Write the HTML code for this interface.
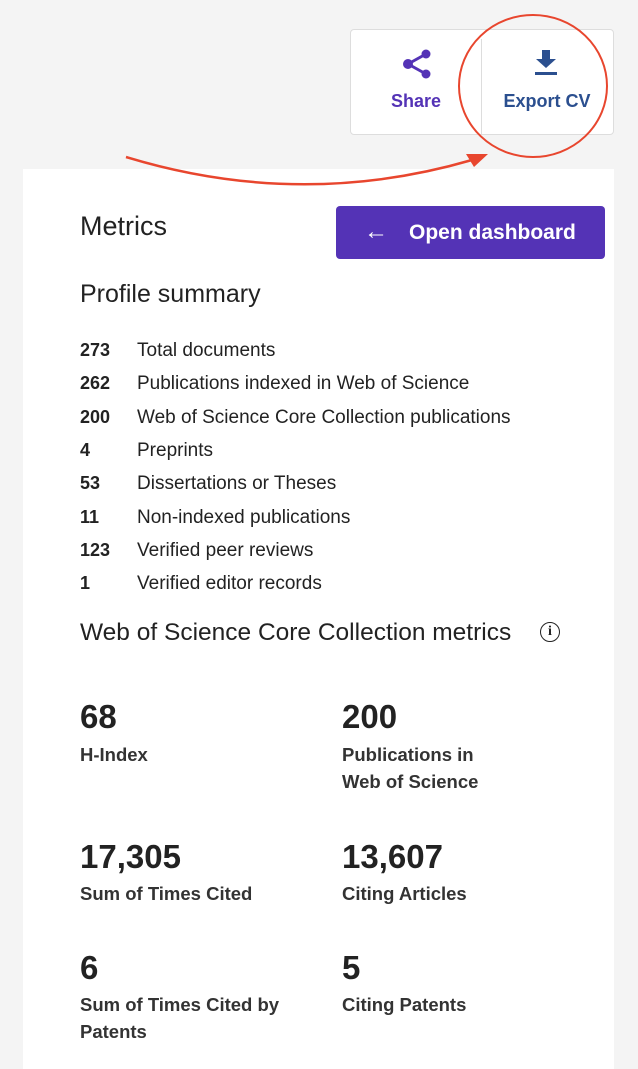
<!DOCTYPE html>
<html><head><meta charset="utf-8"><style>
body{margin:0;width:638px;height:1066px;background:#f4f4f4;position:relative;overflow:hidden;font-family:"Liberation Sans",sans-serif;color:#222}
.a{position:absolute;white-space:nowrap}
.panel{position:absolute;left:23px;top:169px;width:591px;height:900px;background:#fff}
.row{position:absolute;left:80px;font-size:19px;line-height:22px;display:flex;align-items:baseline}
.row b{width:57px;font-weight:bold;font-size:18px}
.big{font-size:33px;font-weight:bold;color:#222}
.lab{font-size:18.5px;font-weight:bold;color:#333;line-height:27px}
</style></head><body>
<div class="panel"></div>
<div class="a" style="left:350px;top:29px;width:262px;height:104px;background:#fff;border:1px solid #ddd;border-radius:4px"></div>
<div class="a" style="left:481px;top:39px;width:1px;height:95px;background:#ddd"></div>
<div class="a" style="left:351px;top:30px;width:130px;height:104px">
<svg style="position:absolute;left:51px;top:18px" width="30" height="32" viewBox="0 0 30 32"><line x1="24" y1="6" x2="6" y2="16" stroke="#5433b6" stroke-width="3"/><line x1="24" y1="26" x2="6" y2="16" stroke="#5433b6" stroke-width="3"/><circle cx="24" cy="6" r="4.5" fill="#5433b6"/><circle cx="24" cy="26" r="4.5" fill="#5433b6"/><circle cx="6" cy="16" r="5" fill="#5433b6"/></svg>
<div class="a" style="left:0;width:130px;top:61px;text-align:center;font-size:18px;font-weight:bold;color:#5433b6">Share</div></div>
<div class="a" style="left:482px;top:30px;width:130px;height:104px">
<svg style="position:absolute;left:53px;top:19px" width="22" height="28" viewBox="0 0 22 28"><rect x="7" y="1" width="8" height="9" fill="#2b4f8f"/><polygon points="1,10 21,10 11,19" fill="#2b4f8f"/><rect x="0" y="23" width="22" height="3" fill="#2b4f8f"/></svg>
<div class="a" style="left:0;width:130px;top:61px;text-align:center;font-size:18px;font-weight:bold;color:#2b4f8f">Export CV</div></div>
<svg class="a" style="left:0;top:0" width="638" height="260">
<ellipse cx="533" cy="86" rx="74" ry="71" fill="none" stroke="#e8462e" stroke-width="2"/>
<path d="M126 157 Q300 210 472 160" fill="none" stroke="#e8462e" stroke-width="2.5"/>
<polygon points="488,154 466,154 474,167" fill="#e8462e"/>
</svg>
<div class="a" style="left:80px;top:211px;font-size:27px">Metrics</div>
<div class="a" style="left:336px;top:206px;width:269px;height:53px;background:#5433b6;border-radius:4px;color:#fff">
<span class="a" style="left:28px;top:12px;font-size:24px">←</span>
<span class="a" style="left:73px;top:15px;font-size:21px;font-weight:bold">Open dashboard</span></div>
<div class="a" style="left:80px;top:280px;font-size:25px">Profile summary</div>
<div class="row a" style="top:339px"><b>273</b><span>Total documents</span></div>
<div class="row a" style="top:372px"><b>262</b><span>Publications indexed in Web of Science</span></div>
<div class="row a" style="top:406px"><b>200</b><span>Web of Science Core Collection publications</span></div>
<div class="row a" style="top:439px"><b>4</b><span>Preprints</span></div>
<div class="row a" style="top:472px"><b>53</b><span>Dissertations or Theses</span></div>
<div class="row a" style="top:506px"><b>11</b><span>Non-indexed publications</span></div>
<div class="row a" style="top:539px"><b>123</b><span>Verified peer reviews</span></div>
<div class="row a" style="top:572px"><b>1</b><span>Verified editor records</span></div>
<div class="a" style="left:80px;top:619px;font-size:24.5px">Web of Science Core Collection metrics</div>
<div class="a" style="left:540px;top:622px;width:18px;height:18px;border:1.5px solid #222;border-radius:50%;font-family:'Liberation Serif',serif;font-weight:bold;font-size:14px;text-align:center;line-height:18px">i</div>
<div class="a big" style="left:80px;top:698px">68</div>
<div class="a lab" style="left:80px;top:741px">H-Index</div>
<div class="a big" style="left:342px;top:698px">200</div>
<div class="a lab" style="left:342px;top:741px">Publications in<br>Web of Science</div>
<div class="a big" style="left:80px;top:838px">17,305</div>
<div class="a lab" style="left:80px;top:880px">Sum of Times Cited</div>
<div class="a big" style="left:342px;top:838px">13,607</div>
<div class="a lab" style="left:342px;top:880px">Citing Articles</div>
<div class="a big" style="left:80px;top:949px">6</div>
<div class="a lab" style="left:80px;top:991px">Sum of Times Cited by<br>Patents</div>
<div class="a big" style="left:342px;top:949px">5</div>
<div class="a lab" style="left:342px;top:991px">Citing Patents</div>
</body></html>
